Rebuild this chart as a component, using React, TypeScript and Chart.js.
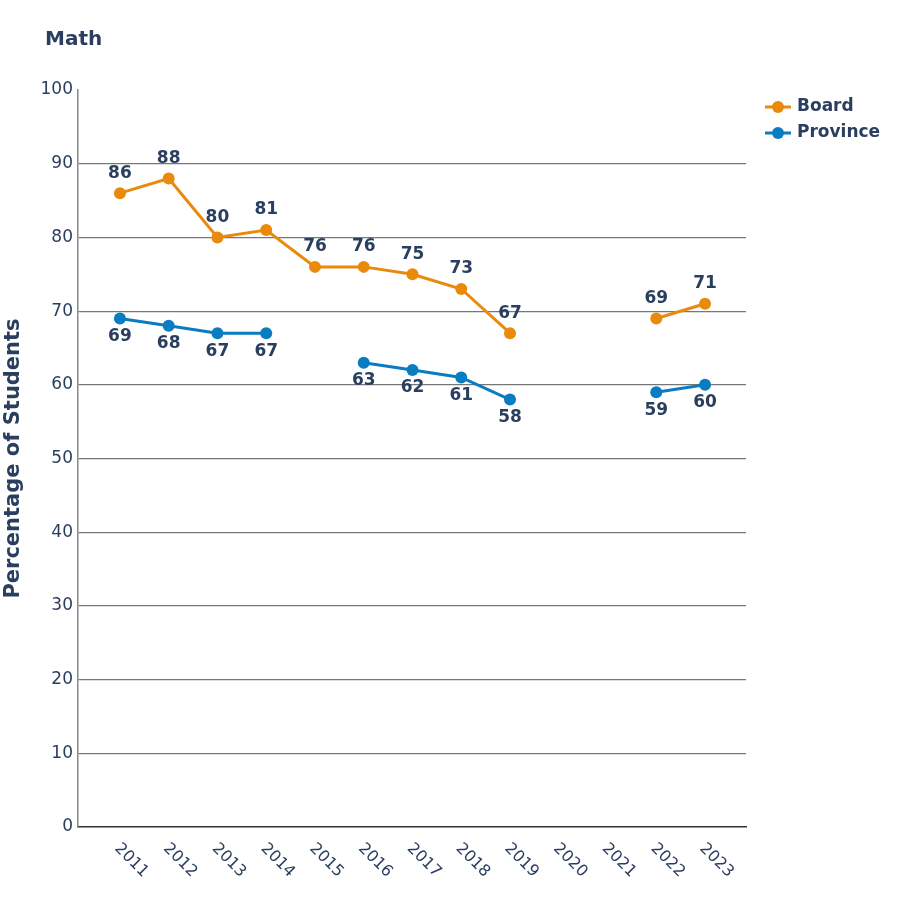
import React, { useEffect, useRef } from "react";
import { Chart, registerables } from "chart.js";
Chart.register(...registerables);

const years = ["2011","2012","2013","2014","2015","2016","2017","2018","2019","2020","2021","2022","2023"];
const board = [86, 88, 80, 81, 76, 76, 75, 73, 67, null, null, 69, 71];
const province = [69, 68, 67, 67, null, 63, 62, 61, 58, null, null, 59, 60];
const yTicks = [0, 10, 20, 30, 40, 50, 60, 70, 80, 90, 100];

const TEXT = "#2a3f5f";
const ORANGE = "#E98A0C";
const BLUE = "#0A7CC1";
const FONT = "'DejaVu Sans', Verdana, sans-serif";

const overlay = {
  id: "overlay",
  afterDatasetsDraw(chart: any) {
    const ctx = chart.ctx;
    const xs = chart.scales.x;
    const ys = chart.scales.y;
    ctx.save();
    // data labels
    ctx.font = `bold 17px ${FONT}`;
    ctx.fillStyle = TEXT;
    ctx.textAlign = "center";
    ctx.textBaseline = "middle";
    chart.data.datasets.forEach((ds: any, di: number) => {
      ds.data.forEach((p: any) => {
        if (p.y == null) return;
        const px = xs.getPixelForValue(p.x);
        const py = ys.getPixelForValue(p.y);
        const dy = di === 0 ? -20 : 18;
        ctx.fillText(String(p.y), px, py + dy);
      });
    });
    // x tick labels rotated
    ctx.font = `16px ${FONT}`;
    ctx.textAlign = "left";
    ctx.textBaseline = "middle";
    years.forEach((y, i) => {
      const px = xs.getPixelForValue(i);
      ctx.save();
      ctx.translate(px - 3, 846);
      ctx.rotate(Math.PI / 4);
      ctx.fillText(y, 0, 0);
      ctx.restore();
    });
    // title
    ctx.font = `bold 20px ${FONT}`;
    ctx.textAlign = "left";
    ctx.textBaseline = "alphabetic";
    ctx.fillText("Math", 45, 45);
    // y title
    ctx.save();
    ctx.font = `bold 21px ${FONT}`;
    ctx.textAlign = "center";
    ctx.textBaseline = "middle";
    ctx.translate(14, (ys.top + ys.bottom) / 2);
    ctx.rotate(-Math.PI / 2);
    ctx.fillText("Percentage of Students", 0, 0);
    ctx.restore();
    // legend
    const items = [
      { label: "Board", color: ORANGE, y: 107 },
      { label: "Province", color: BLUE, y: 133 },
    ];
    items.forEach((it) => {
      ctx.strokeStyle = it.color;
      ctx.lineWidth = 3;
      ctx.beginPath();
      ctx.moveTo(765, it.y);
      ctx.lineTo(791, it.y);
      ctx.stroke();
      ctx.fillStyle = it.color;
      ctx.beginPath();
      ctx.arc(778, it.y, 6, 0, Math.PI * 2);
      ctx.fill();
      ctx.fillStyle = TEXT;
      ctx.font = `bold 17px ${FONT}`;
      ctx.textAlign = "left";
      ctx.textBaseline = "middle";
      ctx.fillText(it.label, 797, it.y);
    });
    ctx.restore();
  },
};

export default function App() {
  const ref = useRef<HTMLCanvasElement>(null);
  useEffect(() => {
    const canvas = ref.current!;
    const toPts = (arr: (number | null)[]) => arr.map((v, i) => ({ x: i, y: v }));
    const chart = new Chart(canvas, {
      type: "line",
      data: {
        datasets: [
          {
            label: "Board",
            data: toPts(board) as any,
            borderColor: ORANGE,
            backgroundColor: ORANGE,
            borderWidth: 3,
            pointRadius: 6,
            pointBorderWidth: 0,
            spanGaps: false,
          },
          {
            label: "Province",
            data: toPts(province) as any,
            borderColor: BLUE,
            backgroundColor: BLUE,
            borderWidth: 3,
            pointRadius: 6,
            pointBorderWidth: 0,
            spanGaps: false,
          },
        ],
      },
      options: {
        animation: false,
        responsive: false,
        devicePixelRatio: 1,
        layout: { padding: { left: 0, top: 90, right: 154, bottom: 73 } },
        plugins: { legend: { display: false }, tooltip: { enabled: false }, title: { display: false } },
        scales: {
          x: {
            type: "linear",
            min: -0.86,
            max: 12.84,
            ticks: { display: false, stepSize: 1 },
            grid: { display: false, drawTicks: false },
            border: { display: true, color: "#333", width: 1.5 },
            afterFit: (s: any) => { s.height = 0; },
          },
          y: {
            min: 0,
            max: 100,
            afterBuildTicks: (s: any) => { s.ticks = yTicks.map((v) => ({ value: v })); },
            ticks: { color: TEXT, font: { size: 17, family: FONT }, padding: 5 },
            grid: {
              drawTicks: false,
              color: (c: any) => (c.tick && (c.tick.value === 0 || c.tick.value === 100) ? "rgba(0,0,0,0)" : "#777"),
              lineWidth: 1.2,
            },
            border: { display: true, color: "#888", width: 1.5 },
            afterFit: (s: any) => { s.width = 78; },
          },
        },
      },
      plugins: [overlay],
    });
    return () => chart.destroy();
  }, []);
  return (
    <div style={{ position: "fixed", left: 0, top: 0, width: 900, height: 900, background: "#fff" }}>
      <canvas ref={ref} width={900} height={900} style={{ width: 900, height: 900 }} />
    </div>
  );
}
